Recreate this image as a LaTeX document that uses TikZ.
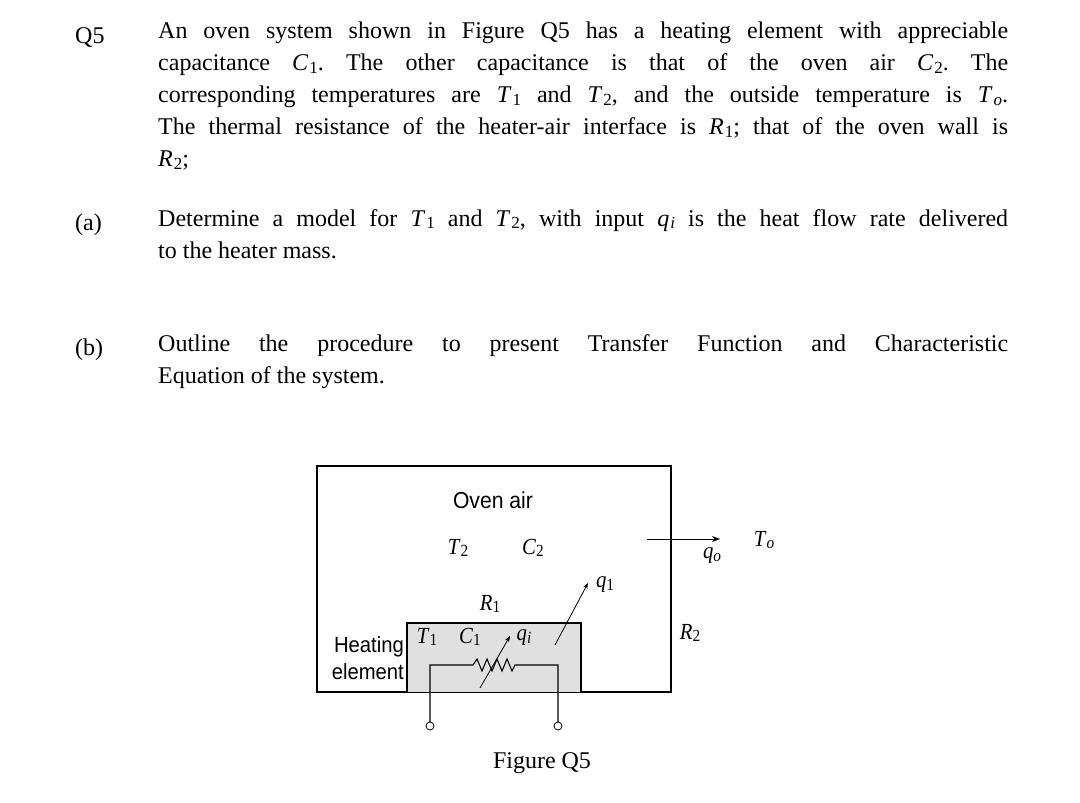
\documentclass[tikz,border=0pt]{standalone}
\usepackage{fontspec}
\setmainfont{Liberation Serif}
\newfontfamily\narrowsans{Liberation Sans}
\usetikzlibrary{arrows.meta}
\newcommand{\ns}[1]{\scalebox{0.92}[1]{\narrowsans #1}}
\newcommand{\mv}[2]{\textit{#1}\kern1pt\raisebox{-0.25ex}{\fontsize{17}{17}\selectfont #2}}
\newcommand{\fv}[2]{\scalebox{0.9}[1]{\textit{#1}\raisebox{-0.25ex}{\fontsize{17}{17}\selectfont #2}}}
\frenchspacing
\begin{document}
\begin{tikzpicture}[x=1pt,y=-1pt,
  body/.style={anchor=north west,inner sep=0,text width=850pt,align=justify,font=\fontsize{24}{32}\selectfont},
  lab/.style={anchor=base west,inner sep=0,font=\fontsize{24}{32}\selectfont},
  fl/.style={inner sep=0,font=\fontsize{23}{24}\selectfont},
  wire/.style={line width=1.1pt}]
\useasboundingbox (0,0) rectangle (1080,803);
\node[lab] (q5) at (75,43) {Q5};
\node[body] (p1) at (158,22) {An oven system shown in Figure Q5 has a heating element with appreciable\linebreak capacitance \mv{C}{1}. The other capacitance is that of the oven air \mv{C}{2}. The\linebreak corresponding temperatures are \mv{T}{1} and \mv{T}{2}, and the outside temperature is \mv{T}{\textit{o}}.\linebreak The thermal resistance of the heater-air interface is \mv{R}{1}; that of the oven wall is\linebreak \mv{R}{2};};
\node[lab] (a) at (75,230) {(a)};
\node[body] (pa) at (158,209) {Determine a model for \mv{T}{1} and \mv{T}{2}, with input \mv{q}{\textit{i}} is the heat flow rate delivered\linebreak to the heater mass.};
\node[lab] (b) at (75,355) {(b)};
\node[body] (pb) at (158,334) {Outline the procedure to present Transfer Function and Characteristic\linebreak Equation of the system.};
% figure
\draw[wire] (317,466) rectangle (671,692);
\draw[wire,fill=black!12] (407,692) |- (581,623) -- (581,692);
\node[fl] (oven) at (493,500) {\ns{Oven air}};
\node[fl] (t2) at (458,548) {\fv{T}{2}};
\node[fl] (c2) at (533,548) {\fv{C}{2}};
\node[fl] (r1) at (490,604) {\fv{R}{1}};
\node[fl] (r2) at (690,633) {\fv{R}{2}};
\node[fl] (t1) at (427,637) {\fv{T}{1}};
\node[fl] (c1) at (470,637) {\fv{C}{1}};
\node[fl] (qi) at (524,638) {\fv{q}{\textit{i}}};
\node[fl] (q1) at (605,585) {\fv{q}{1}};
\node[fl,anchor=east,align=right,font=\fontsize{22}{27}\selectfont] (heat) at (404,658) {\ns{Heating}\\\ns{element}};
\coordinate (l1) at (430,665);
\coordinate (r1w) at (558,665);
\draw[wire] (430,722) -- (l1) -- (473,665) -- (477,659) -- (482,671) -- (487,659) -- (492,671) -- (497,659) -- (502,671) -- (507,659) -- (512,671) -- (515,665) -- (r1w) -- (558,722);
\draw[line width=0.8pt] (430,726) circle (4);
\draw[line width=0.8pt] (558,726) circle (4);
\draw[line width=0.8pt,-{Stealth[length=6pt]}] (480,688) -- (510,636);
\draw[line width=0.8pt,-{Stealth[length=6pt]}] (555,645) -- (588,583);
\coordinate (qs) at (647,539);
\coordinate (qe) at (720,539);
\draw[line width=1pt,-{Stealth[length=8pt]}] (qs) -- (qe);
\node[fl] (qo) at (712,556) {\fv{q}{\textit{o}}};
\node[fl] (to) at (764,540) {\fv{T}{\textit{o}}};
\node[lab,anchor=base] (cap) at (542,768) {Figure Q5};
\end{tikzpicture}
\end{document}
